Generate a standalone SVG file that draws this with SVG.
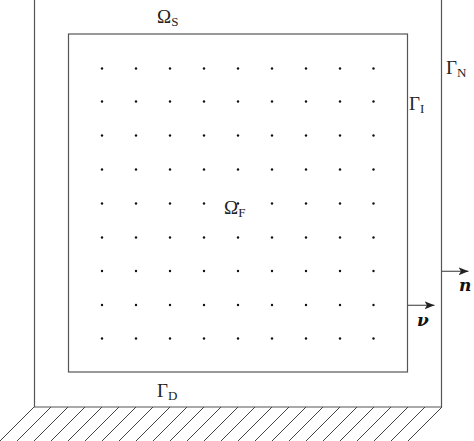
<svg xmlns="http://www.w3.org/2000/svg" width="474" height="441" viewBox="0 0 474 441">
<defs>
<style>
.ln{fill:none;stroke:#555;stroke-width:1.2}
.h{stroke:#444;stroke-width:1}
.d{fill:#111}
.t{font-family:"Liberation Serif","DejaVu Serif",serif;font-size:19px;fill:#222}
.s{font-family:"Liberation Serif","DejaVu Serif",serif;font-size:13px;fill:#222}
.b{font-family:"DejaVu Serif","Liberation Serif",serif;font-size:17px;font-weight:bold;font-style:italic;fill:#111}
</style>
<marker id="ah" viewBox="0 0 10 8" refX="10" refY="4" markerWidth="10" markerHeight="8" markerUnits="userSpaceOnUse" orient="auto">
<path d="M0,0 L10,4 L0,8 L2.5,4 Z" fill="#222"/>
</marker>
<g id="row">
<circle class="d" cx="102" cy="0" r="1.2"/>
<circle class="d" cx="136" cy="0" r="1.2"/>
<circle class="d" cx="170" cy="0" r="1.2"/>
<circle class="d" cx="204" cy="0" r="1.2"/>
<circle class="d" cx="238" cy="0" r="1.2"/>
<circle class="d" cx="272" cy="0" r="1.2"/>
<circle class="d" cx="306" cy="0" r="1.2"/>
<circle class="d" cx="340" cy="0" r="1.2"/>
<circle class="d" cx="373.5" cy="0" r="1.2"/>
</g>
</defs>
<rect width="474" height="441" fill="#fff"/>
<g id="solid">
<path class="ln" d="M34.5,0 V407 H441.5 V0"/>
</g>
<g id="fluid">
<rect class="ln" x="68.5" y="34" width="339" height="338"/>
<use href="#row" y="68.5"/>
<use href="#row" y="101.5"/>
<use href="#row" y="135.5"/>
<use href="#row" y="169.5"/>
<use href="#row" y="203.5"/>
<use href="#row" y="237.5"/>
<use href="#row" y="271"/>
<use href="#row" y="305"/>
<use href="#row" y="338.5"/>
</g>
<g id="ground">
<path class="h" d="M34,407 l-34,34 M51,407 l-34,34 M68,407 l-34,34 M85,407 l-34,34 M102,407 l-34,34 M119,407 l-34,34 M136,407 l-34,34 M153,407 l-34,34 M170,407 l-34,34 M187,407 l-34,34 M204,407 l-34,34 M221,407 l-34,34 M238,407 l-34,34 M255,407 l-34,34 M272,407 l-34,34 M289,407 l-34,34 M306,407 l-34,34 M323,407 l-34,34 M340,407 l-34,34 M357,407 l-34,34 M374,407 l-34,34 M391,407 l-34,34 M408,407 l-34,34 M425,407 l-34,34 M442,407 l-34,34"/>
</g>
<g id="connectors">
<line class="ln" x1="441.5" y1="271.3" x2="468.5" y2="271.3" marker-end="url(#ah)"/>
<line class="ln" x1="407.5" y1="305.3" x2="434.5" y2="305.3" marker-end="url(#ah)"/>
</g>
<g id="labels">
<text class="t" x="157" y="23">Ω<tspan class="s" dy="3">S</tspan></text>
<text class="t" x="446" y="74">Γ<tspan class="s" dy="3">N</tspan></text>
<text class="t" x="409" y="110">Γ<tspan class="s" dy="3">I</tspan></text>
<text class="t" x="224" y="214">Ω<tspan class="s" dy="3">F</tspan></text>
<text class="t" x="157" y="397">Γ<tspan class="s" dy="3">D</tspan></text>
<text class="b" x="459" y="291">n</text>
<text class="b" x="417" y="326">ν</text>
</g>
</svg>
